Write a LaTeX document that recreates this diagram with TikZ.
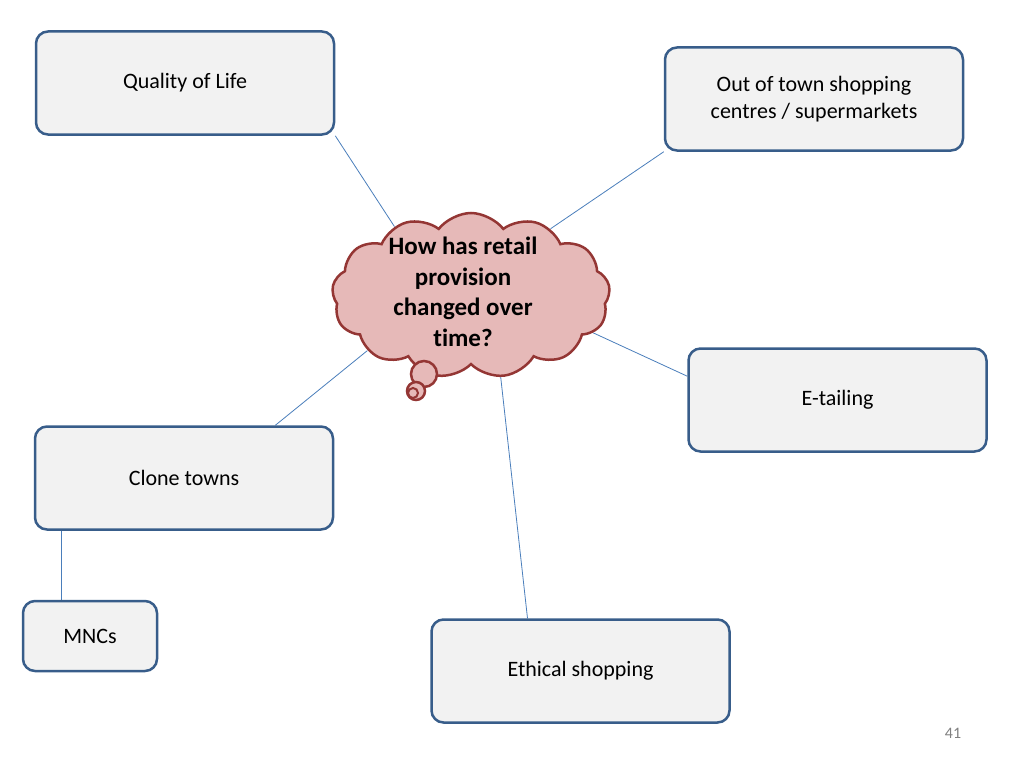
\documentclass[tikz,border=0pt]{standalone}
\usepackage{fontspec}
\setmainfont[Ligatures=NoCommon]{Carlito}
\usetikzlibrary{shapes.symbols,backgrounds}
\definecolor{boxline}{HTML}{385D8A}
\definecolor{boxfill}{HTML}{F2F2F2}
\definecolor{cloudline}{HTML}{943634}
\definecolor{cloudfill}{HTML}{E6B9B8}
\definecolor{linkline}{HTML}{4A7EBB}
\begin{document}
\begin{tikzpicture}[x=1pt,y=-1pt,
    topic/.style={draw=boxline,fill=boxfill,line width=2.5pt,rounded corners=12pt,minimum width=298pt,minimum height=103pt,inner sep=0pt,align=center,font=\fontsize{22}{27}\selectfont},
    link/.style={draw=linkline,line width=0.8pt},
    puff/.style={draw=cloudline,fill=cloudfill,line width=2.5pt}]
    \useasboundingbox(0,0)rectangle(1024,768);
    \node[topic](qol)at(185,83){Quality of Life};
    \node[topic](ootown)at(814,99){Out of town shopping\\centres / supermarkets};
    \node[topic](etail)at(837.5,400){E-tailing};
    \node[topic](clone)at(184,478){Clone towns};
    \node[topic,minimum width=134pt,minimum height=70pt](mnc)at(90,636){MNCs};
    \node[topic](ethic)at(580.5,671){Ethical shopping};
    \node[puff,cloud,cloud puffs=13,cloud puff arc=105,aspect=1.7,minimum width=278pt,minimum height=165pt,inner sep=0pt](cloud)at(471,295.5){};
    \draw[puff](424,374)circle[radius=13];
    \draw[puff](416,391)circle[radius=9];
    \draw[draw=cloudline,line width=2pt](413,393)circle[radius=5];
    \node[font=\bfseries\fontsize{25}{30.5}\selectfont,align=center](question)at(463,292){How has retail\\provision\\changed over\\time?};
    % links run under the cloud
    \begin{pgfonlayer}{background}
    \draw[link](qol.south east)--(cloud.138);
    \draw[link](ootown.south west)--(cloud.40);
    \draw[link](etail.171)--(cloud.343);
    \draw[link](clone.30)--(cloud.208);
    \draw[link]([xshift=-53pt]ethic.north)--(cloud.290);
    \draw[link]([xshift=-29pt]mnc.north)--([xshift=-29pt]mnc.north|-clone.south);
    \end{pgfonlayer}
    \node[text=gray,font=\fontsize{16}{19}\selectfont](pagenum)at(953,733){41};
\end{tikzpicture}
\end{document}
